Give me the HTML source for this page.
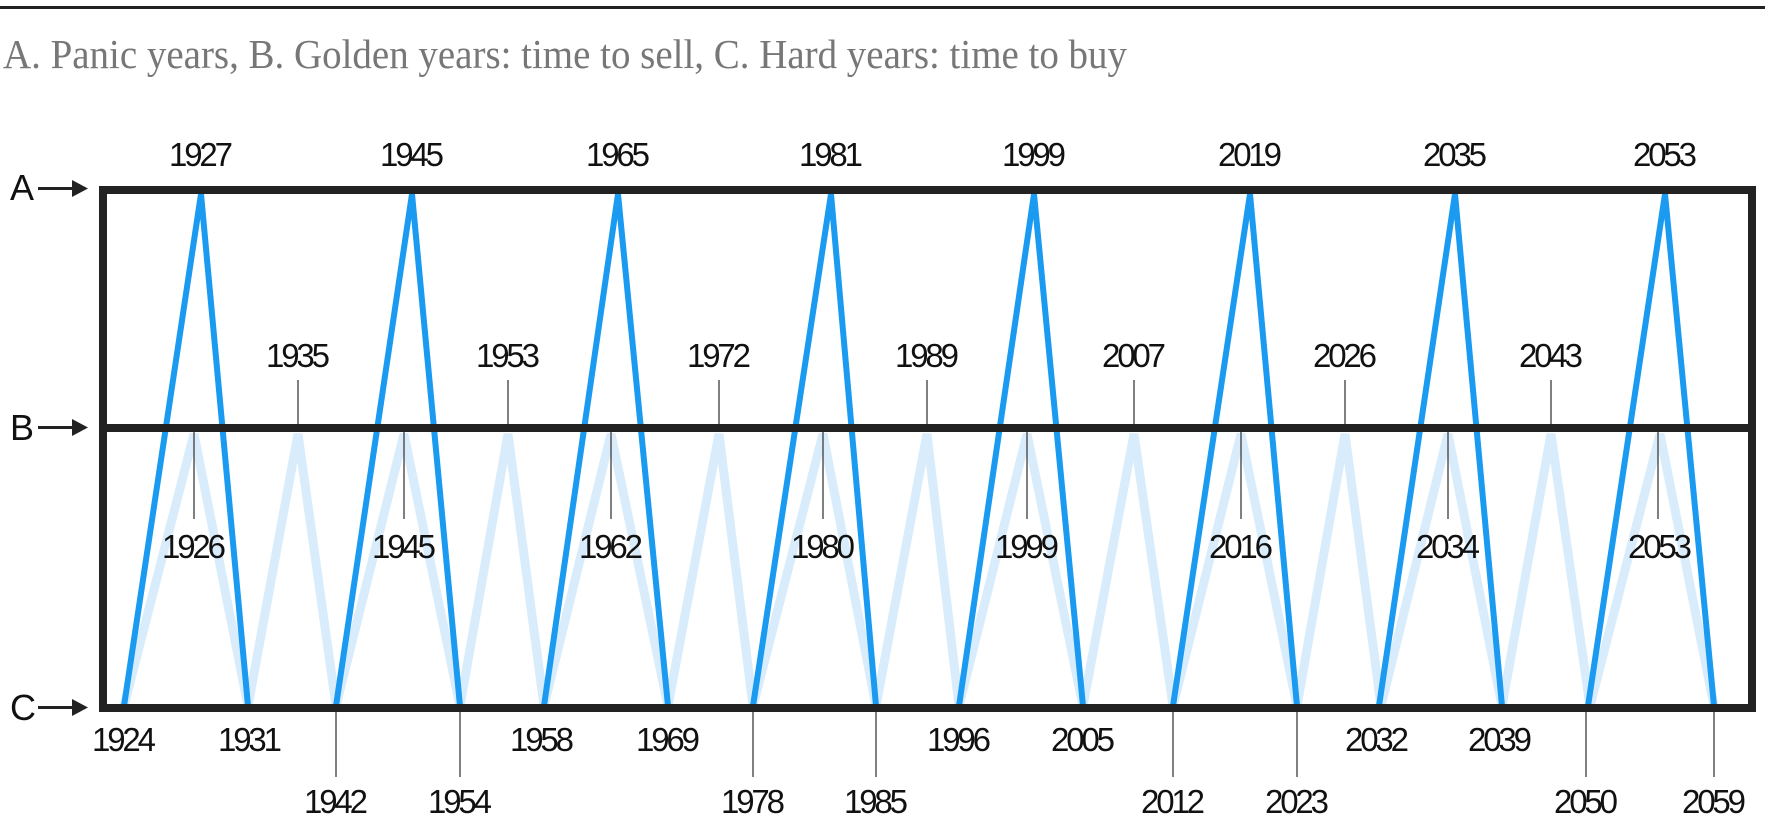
<!DOCTYPE html>
<html><head><meta charset="utf-8"><style>
html,body{margin:0;padding:0;background:#fff;width:1765px;height:820px;overflow:hidden}
svg text{font-family:"Liberation Sans",sans-serif;font-size:33px;fill:#111}
</style></head><body>
<svg width="1765" height="820" viewBox="0 0 1765 820" xmlns="http://www.w3.org/2000/svg">
<rect x="0" y="6" width="1765" height="3" fill="#222"/>
<text x="3" y="68" textLength="1124" lengthAdjust="spacingAndGlyphs" style="font-family:'Liberation Serif',serif;font-size:41px;fill:#777">A. Panic years, B. Golden years: time to sell, C. Hard years: time to buy</text>
<polyline fill="none" stroke="#d8ecfb" stroke-width="9" stroke-linejoin="miter" points="124,706 194,434 248,706 298,434 336,706 404,434 460,706 508,434 544,706 611,434 668,706 719,434 753,706 823,434 876,706 927,434 959,706 1027,434 1083,706 1134,434 1173,706 1241,434 1297,706 1345,434 1381,706 1448,434 1502,706 1551,434 1590,706 1660,434 1714,706"/>
<g stroke="#555" stroke-width="1.5">
<line x1="298" y1="380" x2="298" y2="426"/><line x1="508" y1="380" x2="508" y2="426"/><line x1="719" y1="380" x2="719" y2="426"/><line x1="927" y1="380" x2="927" y2="426"/><line x1="1134" y1="380" x2="1134" y2="426"/><line x1="1345" y1="380" x2="1345" y2="426"/><line x1="1551" y1="380" x2="1551" y2="426"/>
<line x1="194" y1="432" x2="194" y2="519"/><line x1="404" y1="432" x2="404" y2="519"/><line x1="611" y1="432" x2="611" y2="519"/><line x1="823" y1="432" x2="823" y2="519"/><line x1="1027" y1="432" x2="1027" y2="519"/><line x1="1241" y1="432" x2="1241" y2="519"/><line x1="1448" y1="432" x2="1448" y2="519"/><line x1="1658" y1="432" x2="1658" y2="519"/>
<line x1="336" y1="710" x2="336" y2="777"/><line x1="460" y1="710" x2="460" y2="777"/><line x1="753" y1="710" x2="753" y2="777"/><line x1="876" y1="710" x2="876" y2="777"/><line x1="1173" y1="710" x2="1173" y2="777"/><line x1="1297" y1="710" x2="1297" y2="777"/><line x1="1586" y1="710" x2="1586" y2="777"/><line x1="1714" y1="710" x2="1714" y2="777"/>
</g>
<g fill="none" stroke="#1a9af0" stroke-width="6" stroke-linejoin="miter">
<polyline points="124,706 201,194 248,706"/>
<polyline points="336,706 412,194 460,706"/>
<polyline points="544,706 618,194 668,706"/>
<polyline points="753,706 831,194 876,706"/>
<polyline points="959,706 1034,194 1083,706"/>
<polyline points="1173,706 1250,194 1297,706"/>
<polyline points="1379,706 1455,194 1502,706"/>
<polyline points="1588,706 1665,194 1714,706"/>
</g>
<g stroke="#222" stroke-width="8" fill="none">
<rect x="103" y="190" width="1649" height="518"/>
<line x1="103" y1="428" x2="1752" y2="428"/>
</g>
<g fill="#222">
<rect x="38" y="187" width="36" height="3"/><polygon points="72,180 88,188.5 72,197"/>
<rect x="38" y="426" width="36" height="3"/><polygon points="72,419 88,427.5 72,436"/>
<rect x="38" y="706" width="36" height="3"/><polygon points="72,699 88,707.5 72,716"/>
</g>
<text x="10" y="200" style="font-size:36px">A</text>
<text x="10" y="440" style="font-size:36px">B</text>
<text x="10" y="720" style="font-size:36px">C</text>
<g text-anchor="middle">
<text x="201" y="166" textLength="64">1927</text><text x="412" y="166" textLength="64">1945</text><text x="618" y="166" textLength="64">1965</text><text x="831" y="166" textLength="64">1981</text><text x="1034" y="166" textLength="64">1999</text><text x="1250" y="166" textLength="64">2019</text><text x="1455" y="166" textLength="64">2035</text><text x="1665" y="166" textLength="64">2053</text>
<text x="298" y="367" textLength="64">1935</text><text x="508" y="367" textLength="64">1953</text><text x="719" y="367" textLength="64">1972</text><text x="927" y="367" textLength="64">1989</text><text x="1134" y="367" textLength="64">2007</text><text x="1345" y="367" textLength="64">2026</text><text x="1551" y="367" textLength="64">2043</text>
<text x="194" y="558" textLength="64">1926</text><text x="404" y="558" textLength="64">1945</text><text x="611" y="558" textLength="64">1962</text><text x="823" y="558" textLength="64">1980</text><text x="1027" y="558" textLength="64">1999</text><text x="1241" y="558" textLength="64">2016</text><text x="1448" y="558" textLength="64">2034</text><text x="1660" y="558" textLength="64">2053</text>
<text x="124" y="751" textLength="64">1924</text><text x="250" y="751" textLength="64">1931</text><text x="542" y="751" textLength="64">1958</text><text x="668" y="751" textLength="64">1969</text><text x="959" y="751" textLength="64">1996</text><text x="1083" y="751" textLength="64">2005</text><text x="1377" y="751" textLength="64">2032</text><text x="1500" y="751" textLength="64">2039</text>
<text x="336" y="813" textLength="64">1942</text><text x="460" y="813" textLength="64">1954</text><text x="753" y="813" textLength="64">1978</text><text x="876" y="813" textLength="64">1985</text><text x="1173" y="813" textLength="64">2012</text><text x="1297" y="813" textLength="64">2023</text><text x="1586" y="813" textLength="64">2050</text><text x="1714" y="813" textLength="64">2059</text>
</g>
</svg>
</body></html>
